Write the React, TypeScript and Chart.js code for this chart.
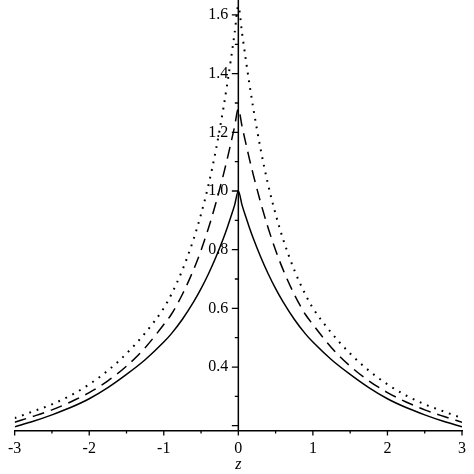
import { useEffect, useRef } from "react"
import { Chart, registerables } from "chart.js"

Chart.register(...registerables)

// z positions the curves were read at
const zValues = [-3, -2.75, -2.5, -2.25, -2, -1.75, -1.5, -1.25, -1, -0.9, -0.75, -0.6, -0.5, -0.4, -0.3, -0.2, -0.15, -0.1, -0.05, 0, 0.05, 0.1, 0.15, 0.2, 0.3, 0.4, 0.5, 0.6, 0.75, 0.9, 1, 1.25, 1.5, 1.75, 2, 2.25, 2.5, 2.75, 3]
const solidValues = [0.196, 0.215, 0.237, 0.262, 0.292, 0.33, 0.375, 0.425, 0.485, 0.513, 0.563, 0.622, 0.667, 0.718, 0.775, 0.839, 0.874, 0.912, 0.952, 1.0, 0.952, 0.912, 0.874, 0.839, 0.775, 0.718, 0.667, 0.622, 0.563, 0.513, 0.485, 0.425, 0.375, 0.33, 0.292, 0.262, 0.237, 0.215, 0.196]
const dashedValues = [0.212, 0.232, 0.254, 0.281, 0.313, 0.353, 0.403, 0.466, 0.545, 0.579, 0.648, 0.732, 0.798, 0.874, 0.96, 1.056, 1.108, 1.163, 1.22, 1.28, 1.22, 1.163, 1.108, 1.056, 0.96, 0.874, 0.798, 0.732, 0.648, 0.579, 0.545, 0.466, 0.403, 0.353, 0.313, 0.281, 0.254, 0.232, 0.212]
const dottedValues = [0.226, 0.249, 0.273, 0.303, 0.341, 0.388, 0.446, 0.516, 0.601, 0.647, 0.731, 0.836, 0.921, 1.021, 1.141, 1.283, 1.363, 1.448, 1.538, 1.63, 1.538, 1.448, 1.363, 1.283, 1.141, 1.021, 0.921, 0.836, 0.731, 0.647, 0.601, 0.516, 0.446, 0.388, 0.341, 0.303, 0.273, 0.249, 0.226]

const xLabelTicks = [-3, -2, -1, 0, 1, 2, 3]
const xMinorMarks = [-2.5, -1.5, -0.5, 0.5, 1.5, 2.5]
const yLabelTicks = [0.4, 0.6, 0.8, 1.0, 1.2, 1.4, 1.6]
const yMajorMarks = [0.2, 0.4, 0.6, 0.8, 1.0, 1.2, 1.4, 1.6]
const yMinorMarks = [0.3, 0.5, 0.7, 0.9, 1.1, 1.3, 1.5]

const serif = "'Liberation Serif', 'DejaVu Serif', serif"

// y axis line at z = 0 plus Maple-style tick marks (long major, short minor)
const axisMarks = {
  id: "axisMarks",
  afterDraw(chart: Chart) {
    const { ctx, chartArea } = chart
    const xs = chart.scales.x
    const ys = chart.scales.y
    const x0 = xs.getPixelForValue(0)
    const yb = chartArea.bottom
    ctx.save()
    ctx.strokeStyle = "#000"
    ctx.lineWidth = 1.5
    ctx.beginPath()
    ctx.moveTo(x0, chartArea.top)
    ctx.lineTo(x0, yb)
    ctx.stroke()
    ctx.lineWidth = 1.3
    ctx.beginPath()
    yMajorMarks.forEach((v) => {
      const p = ys.getPixelForValue(v)
      ctx.moveTo(x0 - 6.5, p)
      ctx.lineTo(x0, p)
    })
    yMinorMarks.forEach((v) => {
      const p = ys.getPixelForValue(v)
      ctx.moveTo(x0 - 3.5, p)
      ctx.lineTo(x0, p)
    })
    xLabelTicks.forEach((v) => {
      const p = xs.getPixelForValue(v)
      ctx.moveTo(p, yb)
      ctx.lineTo(p, yb + 4.5)
    })
    xMinorMarks.forEach((v) => {
      const p = xs.getPixelForValue(v)
      ctx.moveTo(p, yb)
      ctx.lineTo(p, yb + 2.5)
    })
    ctx.stroke()
    ctx.restore()
  },
}

export default function App() {
  const canvasRef = useRef<HTMLCanvasElement>(null)
  const chartRef = useRef<Chart | null>(null)

  useEffect(() => {
    if (!canvasRef.current) return
    if (chartRef.current) chartRef.current.destroy()

    const line = (values: number[], dash: number[], width: number) => ({
      data: zValues.map((z, i) => ({ x: z, y: values[i] })),
      borderColor: "#000",
      borderWidth: width,
      borderDash: dash,
      pointRadius: 0,
      fill: false,
      cubicInterpolationMode: "monotone" as const,
    })

    chartRef.current = new Chart(canvasRef.current, {
      type: "line",
      data: {
        datasets: [
          line(solidValues, [], 1.5),
          line(dashedValues, [12, 7], 1.5),
          line(dottedValues, [1.8, 6], 2),
        ],
      },
      options: {
        animation: false,
        responsive: true,
        maintainAspectRatio: false,
        layout: { padding: { left: 9, right: 5, top: 0, bottom: 0 } },
        plugins: { legend: { display: false }, tooltip: { enabled: false } },
        scales: {
          x: {
            type: "linear",
            position: "bottom",
            min: -3,
            max: 3,
            afterBuildTicks: (scale) => {
              scale.ticks = xLabelTicks.map((v) => ({ value: v }))
            },
            afterFit: (scale) => {
              scale.height = 43
            },
            grid: { display: false, drawTicks: false },
            border: { display: true, color: "#000", width: 1.5 },
            ticks: {
              color: "#000",
              padding: 8,
              maxRotation: 0,
              font: { family: serif, size: 16 },
              callback: (v) => String(v),
            },
            title: {
              display: true,
              text: "z",
              color: "#000",
              padding: 0,
              font: { family: serif, size: 16, style: "italic" },
            },
          },
          y: {
            type: "linear",
            // labels sit right-aligned here, 10px left of the z = 0 axis line
            position: { x: -0.135 },
            min: 0.182,
            max: 1.651,
            afterBuildTicks: (scale) => {
              scale.ticks = yLabelTicks.map((v) => ({ value: v }))
            },
            afterFit: (scale) => {
              scale.paddingTop = 0
              scale.paddingBottom = 0
            },
            grid: { display: false, drawTicks: false },
            border: { display: false },
            ticks: {
              color: "#000",
              padding: 0,
              font: { family: serif, size: 16 },
              callback: (v) => Number(v).toFixed(1),
            },
          },
        },
      },
      plugins: [axisMarks],
    })

    return () => {
      if (chartRef.current) {
        chartRef.current.destroy()
        chartRef.current = null
      }
    }
  }, [])

  return (
    <div style={{ position: "absolute", left: 0, top: 0, width: 474, height: 474, background: "#fff" }}>
      <canvas ref={canvasRef} />
    </div>
  )
}
